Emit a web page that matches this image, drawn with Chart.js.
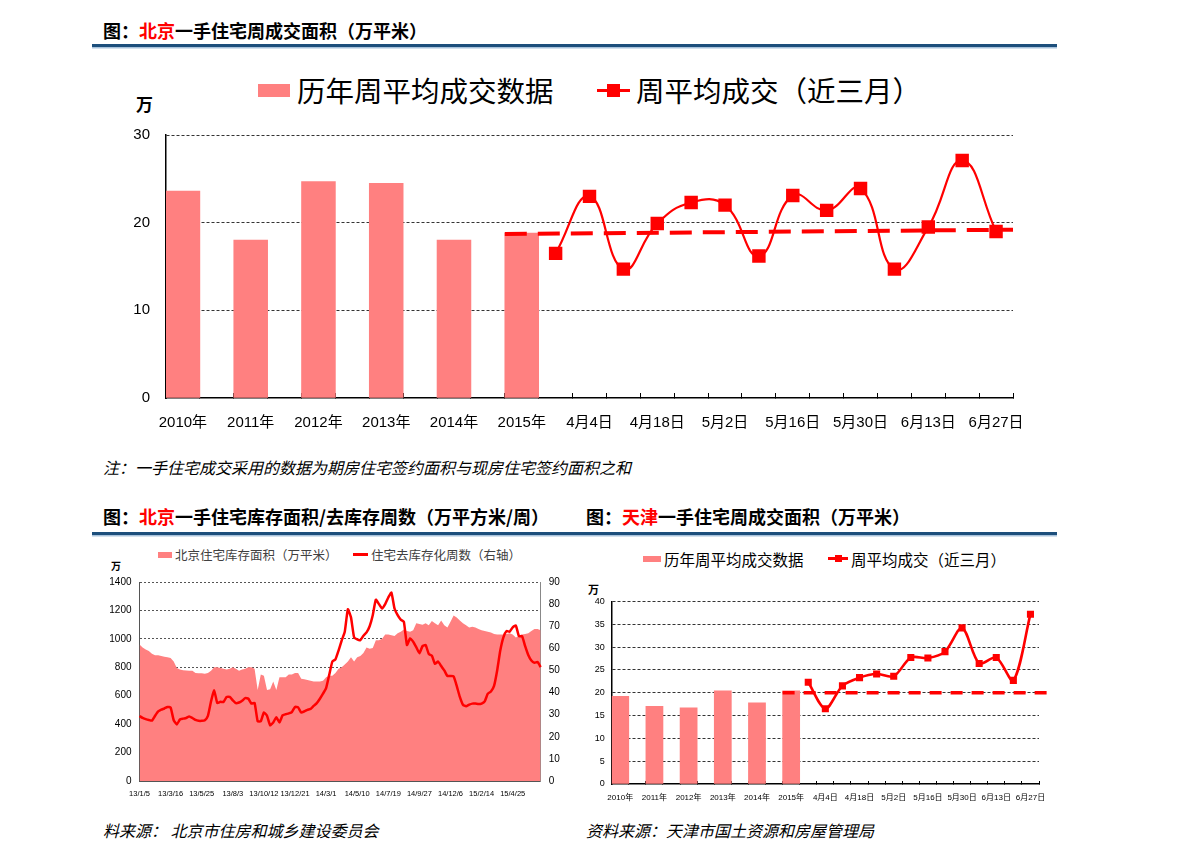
<!DOCTYPE html>
<html>
<head>
<meta charset="utf-8">
<script src="https://cdn.jsdelivr.net/npm/chart.js@4.4.0/dist/chart.umd.min.js"></script>
<style>
  body { margin: 0; background: #fff; width: 1191px; height: 860px; position: relative; overflow: hidden;
         font-family: "Noto Sans CJK SC", sans-serif; color: #000; }
  .t { position: absolute; white-space: nowrap; line-height: 1; }
  .title { font-size: 18px; font-weight: bold; }
  .title span { color: #ff0000; }
  .rule { position: absolute; left: 92px; width: 965px; height: 3px; background: #1d4f7c; box-shadow: 0 1.5px 0 #a9c3dc; }
  .note { font-size: 16px; font-style: italic; }
  .box { position: absolute; }
  canvas { position: absolute; }
</style>
</head>
<body>

<!-- 标题与注释 -->
<div class="t title" style="left:103px; top:21px;">图：<span>北京</span>一手住宅周成交面积（万平米）</div>
<div class="rule" style="top:44px;"></div>

<div class="box" style="left:258px; top:84px; width:32px; height:13px; background:#ff8080;"></div>
<div class="t" style="left:297px; top:76px; font-size:28.5px;">历年周平均成交数据</div>
<div class="box" style="left:597px; top:89px; width:33px; height:3px; background:#ff0000;"></div>
<div class="box" style="left:607px; top:84px; width:13px; height:13px; background:#ff0000;"></div>
<div class="t" style="left:636px; top:76px; font-size:28.5px;">周平均成交（近三月）</div>
<div class="t" style="left:136px; top:95px; font-size:17px; font-weight:bold;">万</div>

<div class="t note" style="left:103px; top:459px;">注：一手住宅成交采用的数据为期房住宅签约面积与现房住宅签约面积之和</div>

<div class="t title" style="left:103px; top:507px;">图：<span>北京</span>一手住宅库存面积/去库存周数（万平方米/周）</div>
<div class="t title" style="left:586px; top:507px;">图：<span>天津</span>一手住宅周成交面积（万平米）</div>
<div class="rule" style="top:532px;"></div>

<div class="box" style="left:158px; top:552px; width:14px; height:6px; background:#ff8080;"></div>
<div class="t" style="left:175px; top:549px; font-size:12.5px; color:#404040;">北京住宅库存面积（万平米）</div>
<div class="box" style="left:353px; top:553px; width:15px; height:3px; background:#ff0000;"></div>
<div class="t" style="left:371px; top:549px; font-size:12.5px; color:#404040;">住宅去库存化周数（右轴）</div>
<div class="t" style="left:111px; top:561px; font-size:10px; font-weight:bold;">万</div>

<div class="box" style="left:643px; top:556px; width:18px; height:6px; background:#ff8080;"></div>
<div class="t" style="left:664px; top:552px; font-size:15.5px;">历年周平均成交数据</div>
<div class="box" style="left:828px; top:557px; width:20px; height:3px; background:#ff0000;"></div>
<div class="box" style="left:835px; top:555px; width:7px; height:7px; background:#ff0000;"></div>
<div class="t" style="left:851px; top:552px; font-size:15.5px;">周平均成交（近三月）</div>
<div class="t" style="left:588px; top:584px; font-size:11px; font-weight:bold;">万</div>

<div class="t note" style="left:103px; top:822px;">料来源： 北京市住房和城乡建设委员会</div>
<div class="t note" style="left:586px; top:822px;">资料来源：天津市国土资源和房屋管理局</div>

<canvas id="bjWeek" width="965" height="330" style="left:92px; top:110px;"></canvas>
<canvas id="bjStock" width="470" height="232" style="left:100px; top:568px;"></canvas>
<canvas id="tjWeek" width="485" height="226" style="left:575px; top:589px;"></canvas>

<script>
// 字体
const FONT = '"Liberation Sans", "Noto Sans CJK SC", sans-serif';

// 分类：历年 + 近三月每周
const years = ['2010年', '2011年', '2012年', '2013年', '2014年', '2015年'];
const weekLabels = ['3月28日', '4月4日', '4月11日', '4月18日', '4月25日', '5月2日', '5月9日',
                    '5月16日', '5月23日', '5月30日', '6月6日', '6月13日', '6月20日', '6月27日'];

// 北京一手住宅周成交面积（万平米）
const bjYearAvg = [23.6, 18.0, 24.7, 24.5, 18.0, 18.8];
const bjWeekly = [16.5, 23.0, 14.7, 19.9, 22.3, 22.0, 16.2, 23.1, 21.4, 23.9, 14.7, 19.5, 27.1, 19.0];
const bjTrend = [18.7, 19.2];

// 天津一手住宅周成交面积（万平米）
const tjYearAvg = [19.2, 17.0, 16.7, 20.4, 17.8, 20.4];
const tjWeekly = [22.3, 16.5, 21.5, 23.3, 24.1, 23.6, 27.7, 27.6, 29.0, 34.2, 26.4, 27.7, 22.7, 37.2];
const tjTrend = [20.0, 20.0];

// 北京住宅库存面积（万平米，左轴）与去库存化周数（右轴），每周一个点，从13/1/5开始
const stockFirstWeek = Date.UTC(2013, 0, 5);
const stockArea = [
  960, 940, 925, 915, 895, 885, 885, 880, 875, 870,
  865, 840, 795, 785, 780, 778, 775, 775, 760, 758,
  758, 755, 760, 775, 800, 800, 795, 790, 785, 790,
  800, 790, 775, 785, 790, 800, 800, 790, 640, 750,
  740, 640, 645, 700, 640, 730, 730, 730, 750, 750,
  760, 760, 720, 715, 710, 705, 700, 700, 700, 705,
  730, 740, 740, 760, 790, 800, 820, 840, 870, 840,
  870, 880, 900, 940, 930, 935, 990, 990, 1000, 1030,
  1030, 1025, 1020, 1040, 1050, 1065, 1055, 1050, 1060, 1110,
  1105, 1100, 1110, 1095, 1125, 1110, 1095, 1130, 1095, 1080,
  1120, 1165, 1150, 1130, 1110, 1095, 1080, 1085, 1080, 1070,
  1060, 1055, 1050, 1045, 1035, 1030, 1030, 1030, 1035, 1040,
  1030, 1010, 1020, 1030, 1035, 1040, 1055, 1070, 1070, 1060
];
const stockWeeks = [
  29.4, 28.5, 28.0, 27.6, 27.3, 29.5, 31.5, 32.3, 32.8, 33.5,
  33.2, 27.5, 25.6, 27.8, 28.2, 28.5, 29.2, 28.5, 27.6, 27.2,
  27.2, 27.5, 29.5, 36.0, 41.0, 35.3, 35.8, 35.7, 38.0, 38.0,
  36.5, 35.2, 35.5, 36.3, 37.5, 37.2, 35.0, 35.3, 27.0, 27.0,
  31.0, 29.5, 25.2, 26.5, 28.8, 26.5, 29.7, 30.2, 30.6, 31.2,
  33.5, 33.3, 31.0, 31.5, 32.2, 32.6, 34.0, 35.2, 37.2, 39.5,
  42.0, 48.0, 54.0, 55.0, 59.0, 63.5, 67.5, 77.7, 74.0, 65.0,
  64.0, 63.7, 65.7, 67.2, 70.0, 75.0, 82.0, 80.0, 78.0, 80.0,
  83.0, 85.2, 78.0, 75.0, 73.0, 72.0, 61.5, 64.5, 63.0, 60.5,
  57.8, 61.0, 61.5, 57.5, 56.7, 53.0, 54.0, 52.0, 50.0, 47.5,
  47.5, 47.3, 43.0, 38.0, 34.5, 33.8, 34.5, 35.0, 35.0, 34.8,
  35.0, 36.0, 39.5, 40.5, 43.0, 50.0, 59.0, 65.0, 67.8, 67.5,
  69.5, 70.3, 65.5, 65.5, 61.0, 57.0, 54.5, 53.5, 53.8, 51.5
];

// 历年柱 + 周度折线 + 虚线均值，共用一个画法
function weeklyChart(id, yearAvg, weekly, trend, o) {
  const labels = [], bars = [], line = [];
  years.forEach((y, i) => {
    labels.push(y); bars.push(yearAvg[i]); line.push(null);
    if (i < years.length - 1) { labels.push(''); bars.push(null); line.push(null); }
  });
  weekLabels.forEach((w, i) => { labels.push(w); bars.push(null); line.push(weekly[i]); });
  const n = labels.length;
  const trendFrom = 2 * (years.length - 1);

  return new Chart(document.getElementById(id), {
    type: 'bar',
    data: {
      labels: labels,
      datasets: [
        { type: 'line', data: line, borderColor: '#ff0000', borderWidth: o.lineW, tension: o.tension,
          pointStyle: 'rect', pointRadius: o.pointR, pointBackgroundColor: '#ff0000', pointBorderWidth: 0, order: 0 },
        { type: 'line', xAxisID: 'x2', data: [{ x: trendFrom, y: trend[0] }, { x: n + o.trendOver, y: trend[1] }],
          borderColor: '#ff0000', borderWidth: o.dashW, borderDash: o.dash, pointRadius: 0, clip: false, order: 1 },
        { data: bars, backgroundColor: '#ff8080', barPercentage: 1, categoryPercentage: 1, grouped: false, order: 2 }
      ]
    },
    options: {
      responsive: false, animation: false, events: [],
      layout: { padding: o.pad },
      plugins: { legend: { display: false }, tooltip: { enabled: false } },
      scales: {
        x: {
          offset: true,
          grid: { offset: true, drawOnChartArea: false, color: '#000', tickLength: o.tick },
          border: { color: '#000', width: 1.5 },
          ticks: { autoSkip: false, maxRotation: 0, padding: o.xPad, color: '#000',
                   font: { family: FONT, size: o.xFont },
                   callback: (v, i) => (i % 2 === 0 ? labels[i] : '') },
          afterFit: s => { s.height = o.xH; }
        },
        // 与 x 同宽的线性轴，只用来放虚线的起止位置
        x2: {
          type: 'linear', axis: 'x', position: 'bottom', min: 0, max: n, offset: false,
          ticks: { display: false }, grid: { display: false, drawTicks: false, offset: false }, border: { display: false },
          afterFit: s => { s.height = 0; }
        },
        y: {
          min: 0, max: o.yMax,
          ticks: { stepSize: o.yStep, padding: o.yPad, color: '#000', font: { family: FONT, size: o.yFont } },
          grid: { drawTicks: false, lineWidth: 1, color: c => (c.tick.value === 0 ? 'rgba(0,0,0,0)' : '#333') },
          border: { color: '#000', width: 1.5, dash: [3, 2] },
          afterFit: s => { s.width = o.yW; }
        }
      }
    }
  });
}

weeklyChart('bjWeek', bjYearAvg, bjWeekly, bjTrend, {
  pad: { top: 15, right: 44, left: 0, bottom: 0 }, yW: 74, xH: 42,
  yMax: 30, yStep: 10, yFont: 15, yPad: 16, xFont: 15, xPad: 21, tick: -5,
  lineW: 2.2, tension: 0.45, pointR: 9.5, dashW: 4, dash: [22, 11], trendOver: 0
});

weeklyChart('tjWeek', tjYearAvg, tjWeekly, tjTrend, {
  pad: { top: 10.7, right: 21, left: 0, bottom: 0 }, yW: 36.7, xH: 31,
  yMax: 40, yStep: 5, yFont: 9, yPad: 7, xFont: 8, xPad: 12, tick: -3,
  lineW: 2.6, tension: 0.3, pointR: 5, dashW: 3.5, dash: [12, 9], trendOver: 0.5
});

// 北京库存：面积 + 去库存周数
const stockLabels = stockArea.map((v, i) => {
  const d = new Date(stockFirstWeek + i * 7 * 86400000);
  return String(d.getUTCFullYear()).slice(2) + '/' + (d.getUTCMonth() + 1) + '/' + d.getUTCDate();
});

new Chart(document.getElementById('bjStock'), {
  type: 'line',
  data: {
    labels: stockLabels,
    datasets: [
      { data: stockWeeks, yAxisID: 'y1', borderColor: '#ff0000', borderWidth: 2.5, pointRadius: 0, tension: 0.15, order: 0 },
      { data: stockArea, yAxisID: 'y', fill: 'origin', backgroundColor: '#ff8080', borderColor: '#ff8080',
        borderWidth: 0, pointRadius: 0, tension: 0, order: 1 }
    ]
  },
  options: {
    responsive: false, animation: false, events: [],
    layout: { padding: { top: 11, left: 0, right: 0, bottom: 0 } },
    plugins: { legend: { display: false }, tooltip: { enabled: false } },
    scales: {
      x: {
        offset: false,
        grid: { display: false, drawTicks: false },
        border: { color: '#555', width: 1 },
        ticks: { autoSkip: false, maxRotation: 0, padding: 8.5, color: '#000',
                 font: { family: FONT, size: 7.5 },
                 callback: (v, i) => (i % 10 === 0 ? stockLabels[i] : '') },
        afterFit: s => { s.height = 19; }
      },
      y: {
        min: 0, max: 1400,
        ticks: { stepSize: 200, padding: 8, color: '#000', font: { family: FONT, size: 10 }, callback: v => v },
        grid: { drawTicks: false, lineWidth: 1, color: c => (c.tick.value === 0 ? 'rgba(0,0,0,0)' : '#555') },
        border: { color: '#555', width: 1, dash: [2, 2] },
        afterFit: s => { s.width = 39.5; }
      },
      y1: {
        position: 'right', min: 0, max: 90,
        ticks: { stepSize: 10, padding: 8, color: '#000', font: { family: FONT, size: 10 } },
        grid: { drawOnChartArea: false, drawTicks: false },
        border: { color: '#888', width: 1 },
        afterFit: s => { s.width = 29.3; }
      }
    }
  }
});
</script>
</body>
</html>
